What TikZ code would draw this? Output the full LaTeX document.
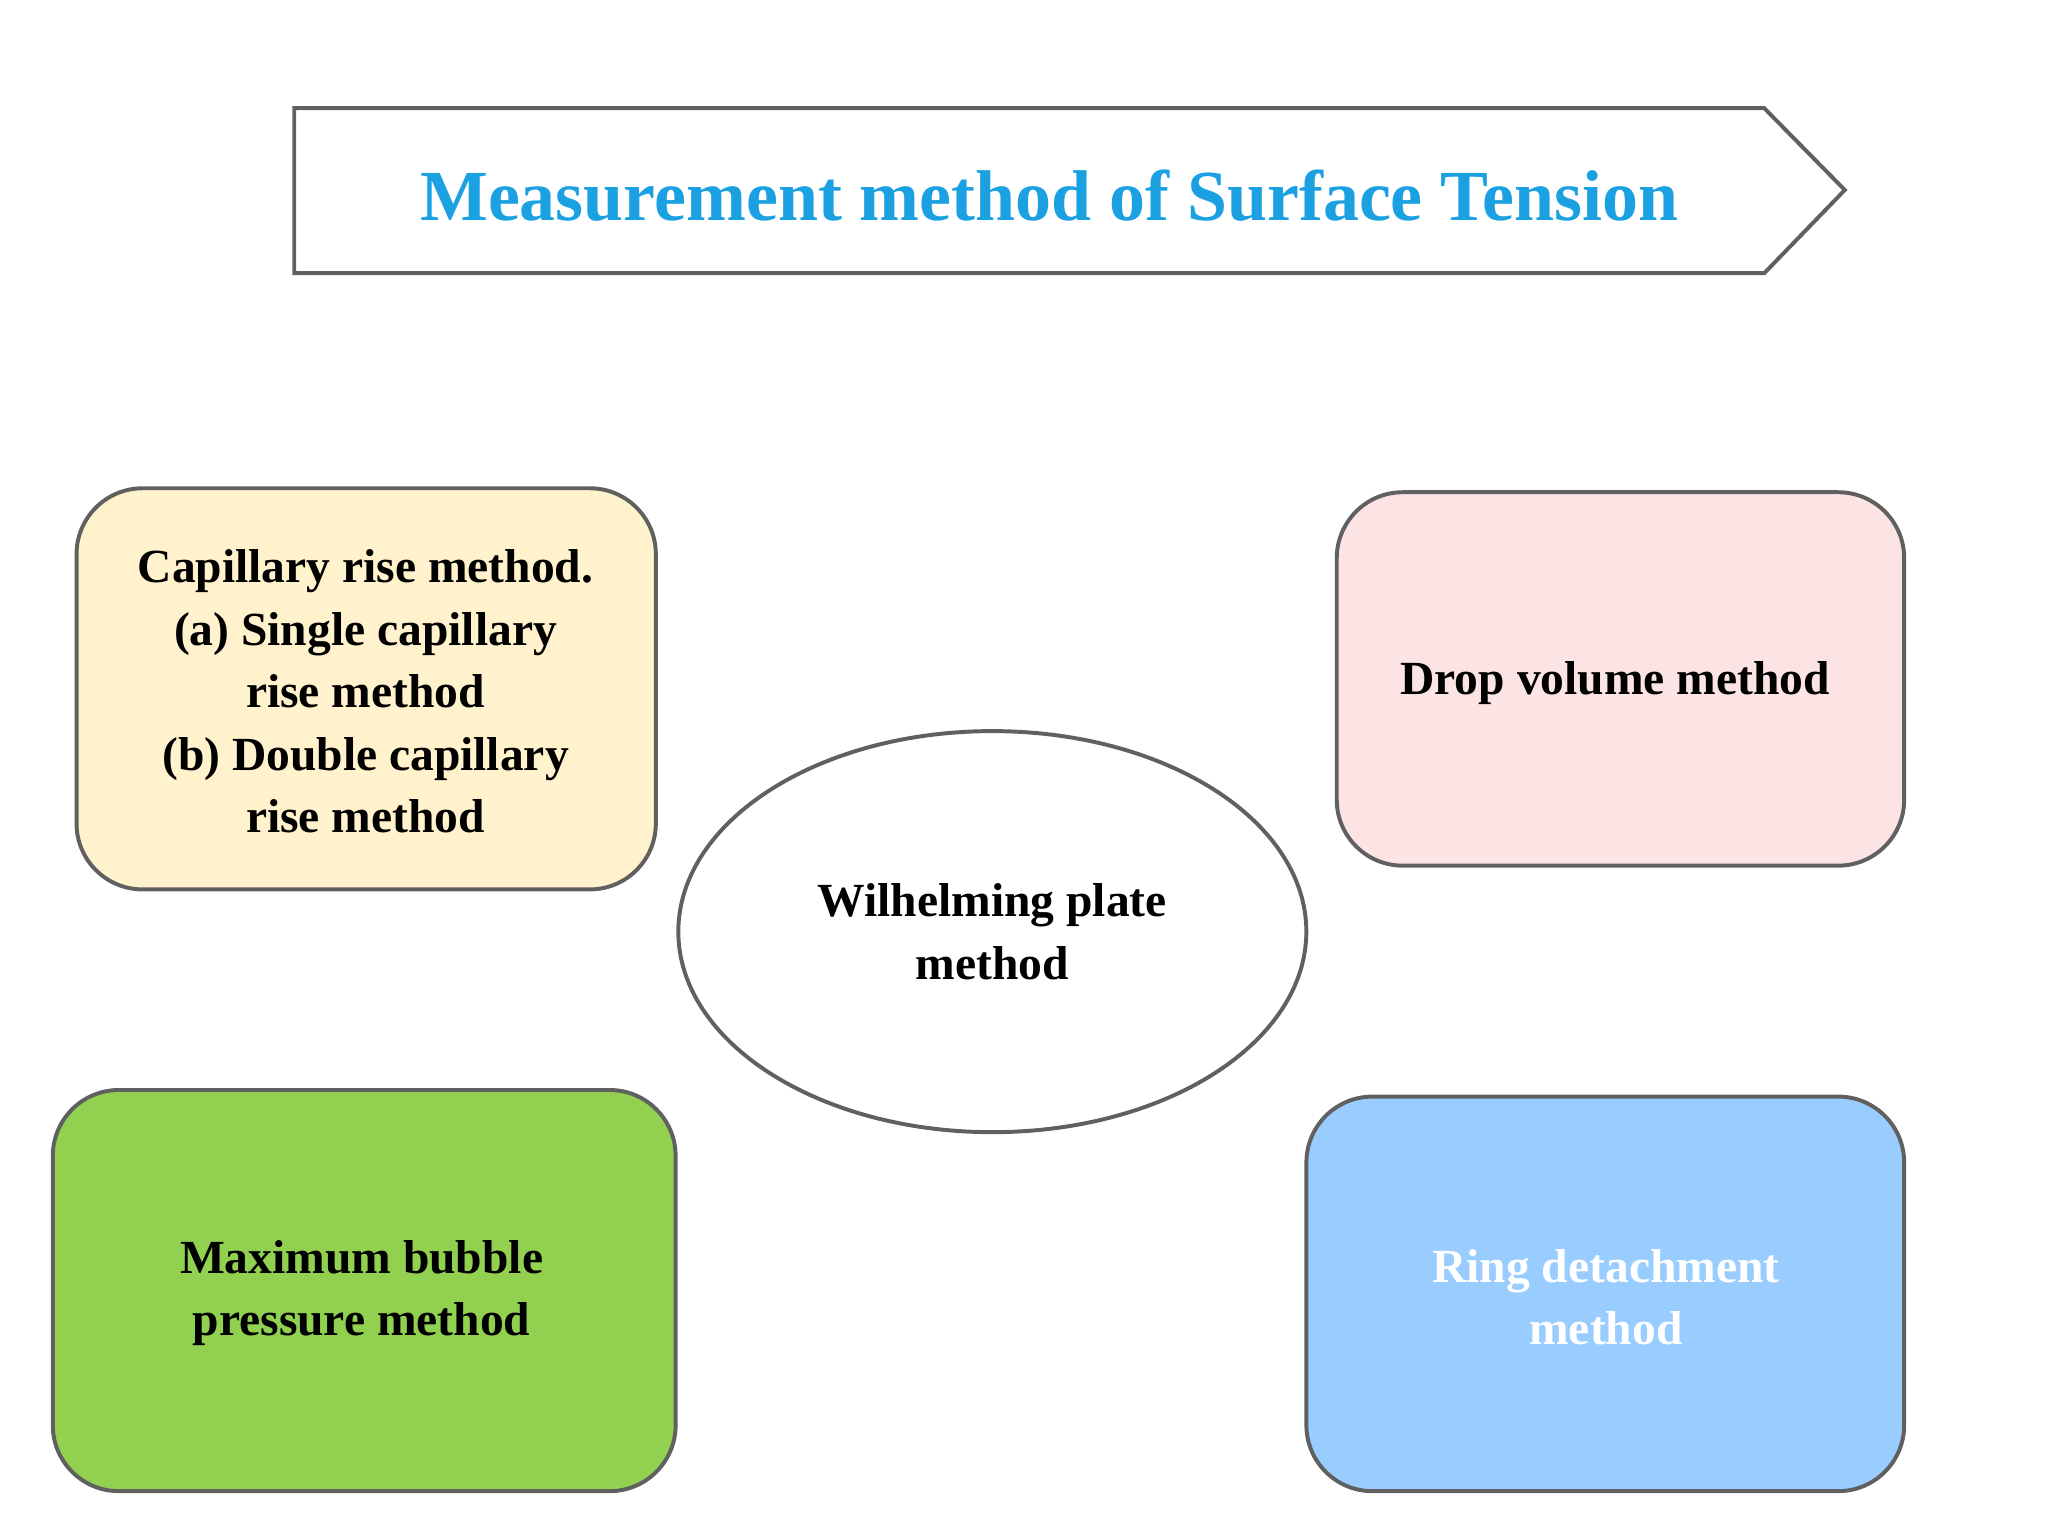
\documentclass[tikz,border=0pt]{standalone}
\usepackage{fontspec}
\setmainfont{Liberation Serif}
\usetikzlibrary{shapes.geometric}
\definecolor{bord}{HTML}{606060}
\definecolor{ttl}{HTML}{1BA1E2}
\definecolor{yel}{HTML}{FFF2CC}
\definecolor{pnk}{HTML}{FDE4E4}
\definecolor{grn}{HTML}{92D050}
\definecolor{blu}{HTML}{99CCFF}
\tikzset{box/.style={draw=bord,line width=1.7pt,rounded corners=1cm},
 lbl/.style={font=\fontsize{20.5}{27}\selectfont\bfseries,align=center}}
\begin{document}
\begin{tikzpicture}[x=0.02cm,y=-0.02cm]
\useasboundingbox (0,0) rectangle (1552,1164);
\draw[bord,line width=1.7pt,fill=white] (223,82) -- (1337,82) -- (1398,144) -- (1337,207) -- (223,207) -- cycle;
\node[font=\fontsize{31}{36}\selectfont\bfseries,text=ttl] (title) at (795,148) {Measurement method of Surface Tension};
\draw[box,fill=yel] (58,370) rectangle (497,674);
\node[lbl] (cap) at (277,524) {Capillary rise method.\\(a) Single capillary\\rise method\\(b) Double capillary\\rise method};
\draw[box,fill=pnk] (1013,373) rectangle (1443,656);
\node[lbl] (drop) at (1224,518) {Drop volume method};
\node[draw=bord,line width=1.7pt,fill=white,ellipse,minimum width=476\pgflinewidth/1.7*0.02cm*0+9.52cm,minimum height=6.08cm,lbl] (wp) at (752,706) {Wilhelming plate\\method};
\draw[box,fill=grn] (40,826) rectangle (512,1130);
\node[lbl] (mb) at (274,980) {Maximum bubble\\pressure method};
\draw[box,fill=blu] (990,831) rectangle (1443,1130);
\node[lbl,text=white] (ring) at (1217,983) {Ring detachment\\method};
\end{tikzpicture}
\end{document}
